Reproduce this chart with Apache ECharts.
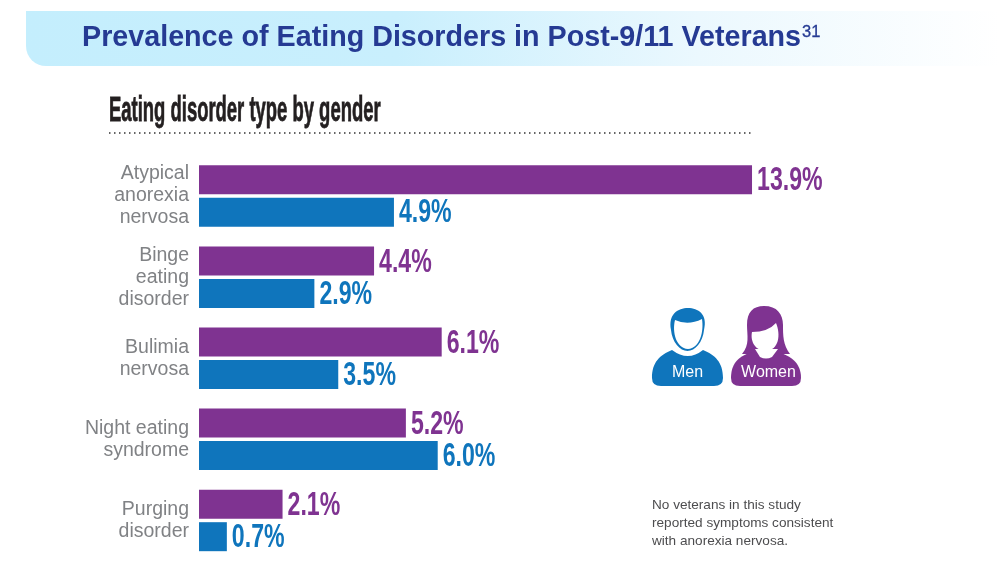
<!DOCTYPE html>
<html><head><meta charset="utf-8">
<style>html,body{margin:0;padding:0;background:#fff}#c{width:1000px;height:563px}</style>
<script src="https://cdn.jsdelivr.net/npm/echarts@6/dist/echarts.min.js"></script>
</head><body><div id="c"></div>
<script>
const categories = ['Atypical\nanorexia\nnervosa','Binge\neating\ndisorder','Bulimia\nnervosa','Night eating\nsyndrome','Purging\ndisorder'];
const women = [13.9, 4.4, 6.1, 5.2, 2.1];
const men = [4.9, 2.9, 3.5, 6.0, 0.7];
const titleText = 'Prevalence of Eating Disorders in Post-9/11 Veterans';
const titleRef = '31';
const subtitleText = 'Eating disorder type by gender';
const noteLines = ['No veterans in this study','reported symptoms consistent','with anorexia nervosa.'];

const PURPLE = '#7f3391', BLUE = '#0f75bc';
const NARROW = '"Liberation Sans Narrow","Liberation Sans",sans-serif';
const SANS = '"Liberation Sans",Arial,sans-serif';

const iconPaths = {
  menBody: 'M652,378 C652,362 660,355 672,350 Q688,362 703,350 C715,355 723,362 723,378 Q723,386 714,386 L661,386 Q652,386 652,378 Z',
  menHead: 'M671,330 C668,314 678,308 688,308 C698,308 708,314 704,330 C703,342 695,351 687.5,351 C680,351 672,342 671,330 Z',
  menFace: 'M675,320 Q688,326 702,319 C704,332 700,348 688,349 C676,348 672,332 675,320 Z',
  womenHair: 'M742,354 C750,345 747,335 747,325 C747,312 753,306 764,306 C777,306 783,314 783,325 C783,335 783,345 790,354 Z',
  womenBody: 'M731,378 C731,362 740,356 752,352 L778,352 C790,356 801,362 801,378 Q801,386 792,386 L740,386 Q731,386 731,378 Z',
  womenCollar: 'M755,349 L760,357 Q766,360 772,357 L778,349 Z',
  womenFace: 'M752,332 Q768,332 776,323 C781,335 779,350 766,351 C756,351 750,342 752,332 Z'
};
Object.keys(iconPaths).forEach(k => echarts.graphic.registerShape(k, echarts.graphic.extendPath(iconPaths[k], {})));

function labelSeries(name, values, color, dy) {
  return {
    type: 'custom', name: name + ' labels', silent: true, z: 5,
    encode: {x: 0, y: 1},
    data: values.map((v, i) => [v, i]),
    renderItem: (params, api) => {
      const p = api.coord([api.value(0), api.value(1)]);
      return {type: 'text', x: p[0] + 5, y: p[1] + dy, scaleX: 0.68, style: {
        text: api.value(0).toFixed(1) + '%', fill: color,
        font: 'bold 34px ' + NARROW, align: 'left', verticalAlign: 'middle'
      }};
    }
  };
}

const chart = echarts.init(document.getElementById('c'), null, {renderer: 'canvas'});
chart.setOption({
  animation: false,
  backgroundColor: '#fff',
  title: {
    left: 77, top: 14,
    text: '{a|' + titleText + '}',
    textStyle: {rich: {
      a: {fontFamily: SANS, fontWeight: 'bold', fontSize: 28.7, color: '#253a93', lineHeight: 38}
    }}
  },
  grid: {left: 199, width: 557, top: 155.5, height: 405.5},
  xAxis: {type: 'value', min: 0, max: 14, show: false},
  yAxis: {
    type: 'category', data: categories, inverse: true,
    axisLine: {show: false}, axisTick: {show: false},
    axisLabel: {margin: 10, color: '#808285', fontFamily: SANS, fontSize: 19.5, lineHeight: 22, align: 'right'}
  },
  series: [
    {type: 'bar', name: 'Women', data: women, barWidth: 29, barGap: '12%', itemStyle: {color: PURPLE}},
    {type: 'bar', name: 'Men', data: men, barWidth: 29, barGap: '12%', itemStyle: {color: BLUE}},
    labelSeries('Women', women, PURPLE, -15),
    labelSeries('Men', men, BLUE, 17)
  ],
  graphic: [
    {type: 'rect', z: -10, shape: {x: 26, y: 11, width: 974, height: 55, r: [0,0,0,20]},
      style: {fill: new echarts.graphic.LinearGradient(0,0,1,0,[{offset:0,color:'#c4eefd'},{offset:0.38,color:'#c9effd'},{offset:0.69,color:'#ebf8fe'},{offset:1,color:'#ffffff'}])}},
    {type: 'text', x: 802, y: 32, style: {text: titleRef, fill: '#253a93', stroke: '#253a93', lineWidth: 0.3, font: '16.5px ' + SANS, verticalAlign: 'middle'}},
    {type: 'text', x: 109, y: 111, scaleX: 0.527, style: {text: subtitleText, fill: '#231f20', stroke: '#231f20', lineWidth: 0.8, font: 'bold 35px ' + NARROW, verticalAlign: 'middle'}},
    {type: 'line', shape: {x1: 109, y1: 133, x2: 752, y2: 133}, style: {stroke: '#333', lineWidth: 1.5, lineDash: [1.5, 3.5]}},
    {type: 'menBody', style: {fill: BLUE}},
    {type: 'menHead', style: {fill: BLUE}},
    {type: 'menFace', style: {fill: '#fff'}},
    {type: 'text', x: 687.5, y: 373, style: {text: 'Men', fill: '#fff', font: '16px ' + SANS, align: 'center', verticalAlign: 'middle'}},
    {type: 'womenHair', style: {fill: PURPLE}},
    {type: 'womenBody', style: {fill: PURPLE}},
    {type: 'womenCollar', style: {fill: '#fff'}},
    {type: 'womenFace', style: {fill: '#fff'}},
    {type: 'text', x: 768.5, y: 373, style: {text: 'Women', fill: '#fff', font: '16px ' + SANS, align: 'center', verticalAlign: 'middle'}},
    ...noteLines.map((t, i) => ({type: 'text', x: 652, y: 505 + i * 18, style: {text: t, fill: '#4d4d4f', font: '13.6px ' + SANS, verticalAlign: 'middle'}}))
  ]
});
</script></body></html>
